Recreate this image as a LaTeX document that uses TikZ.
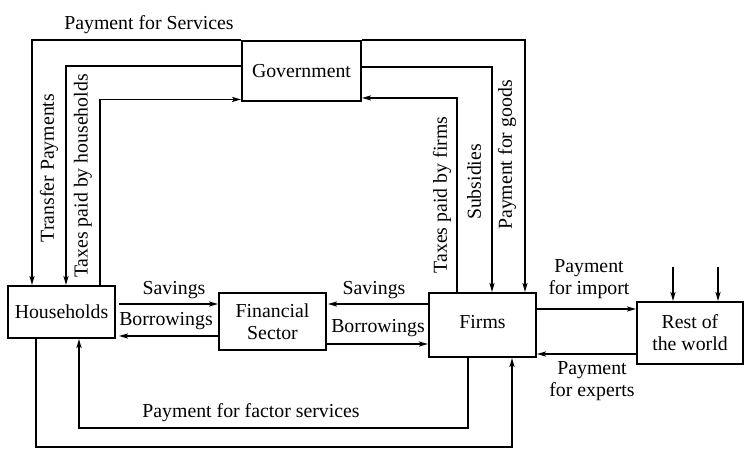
\documentclass[tikz,border=0pt]{standalone}
\usepackage{fontspec}
\setmainfont{Liberation Serif}
\usetikzlibrary{arrows.meta}
\newcommand{\dfont}{\fontsize{19.8}{22}\selectfont}
\begin{document}
\begin{tikzpicture}[x=1pt,y=-1pt,
  box/.style={draw,line width=1.9pt,inner sep=0pt,align=center,font=\dfont},
  lbl/.style={inner sep=0pt,align=center,font=\dfont},
  arr/.style={line width=1.7pt,-{Stealth[length=9pt,width=5pt,inset=2pt]}},
  ln/.style={line width=1.7pt}]
\useasboundingbox (0,0) rectangle (754,450);
% boxes
\node[box,minimum width=119pt,minimum height=60pt] (gov) at (301.5,71) {Government};
\node[box,minimum width=107pt,minimum height=52pt] (hh) at (61.5,312) {Households};
\node[box,minimum width=107pt,minimum height=57pt] (fs) at (272.5,321.5) {Financial\\Sector};
\node[box,minimum width=107pt,minimum height=64pt,text depth=6pt] (fi) at (482.5,325) {Firms};
\node[box,minimum width=106pt,minimum height=62pt] (rw) at (690,333) {Rest of\\the world};
% helper x-positions
\coordinate (c1) at (32,0);
\coordinate (c2) at (66,0);
\coordinate (c3) at (100,0);
\coordinate (c4) at (457,0);
\coordinate (c6) at (492,0);
\coordinate (c5) at (525,0);
% government links
\draw[arr] (gov.north west) -| (c1 |- hh.north);
\draw[arr] (gov.north east) -| (c5 |- fi.north);
\draw[arr] ([yshift=5pt]gov.west) -| (c2 |- hh.north);
\draw[arr] ([yshift=4pt]gov.east) -| (c6 |- fi.north);
\draw[arr] (c3 |- hh.north) |- ([yshift=2.5pt]gov.south west);
\draw[arr] (c4 |- fi.north) |- ([yshift=4pt]gov.south east);
% households - financial sector
\coordinate (s1) at ([yshift=8pt]hh.east);
\draw[arr,shorten <=3pt] (s1) -- (s1 -| fs.west);
\coordinate (b1) at ([yshift=-14.5pt]fs.west);
\draw[arr,shorten >=3pt] (b1) -- (b1 -| hh.east);
% firms - financial sector
\coordinate (s2) at ([yshift=21pt]fi.west);
\draw[arr,shorten >=1pt] (s2) -- (s2 -| fs.east);
\coordinate (b2) at ([yshift=-22.5pt]fs.east);
\draw[arr] (b2) -- (b2 -| fi.west);
% firms - rest of the world
\coordinate (m1) at ([yshift=16pt]fi.east);
\draw[arr] (m1) -- (m1 -| rw.west);
\coordinate (x1) at ([yshift=-21pt]rw.west);
\draw[arr] (x1) -- (x1 -| fi.east);
% arrows into rest of the world
\coordinate (r1) at ([xshift=-17pt]rw.north);
\coordinate (r1s) at ([yshift=34pt]r1);
\draw[arr] (r1s) -- (r1);
\coordinate (r2) at ([xshift=28pt]rw.north);
\coordinate (r2s) at ([yshift=34pt]r2);
\draw[arr] (r2s) -- (r2);
% factor services
\coordinate (f1) at ([xshift=-14.5pt]fi.south);
\coordinate (f2) at ([xshift=17.5pt]hh.south);
\coordinate (fy) at (0,428);
\draw[arr] (f1) -- (f1 |- fy) -- (f2 |- fy) -- (f2);
% bottom loop
\coordinate (g1) at ([xshift=-25.5pt]hh.south);
\coordinate (g2) at ([xshift=29.5pt]fi.south);
\coordinate (gy) at (0,447);
\draw[arr] (g1) -- (g1 |- gy) -- (g2 |- gy) -- (g2);
% labels
\node[lbl] (l1) at (149,25) {Payment for Services};
\node[lbl,rotate=90] (l2) at (49,168) {Transfer Payments};
\node[lbl,rotate=90] (l3) at (83,176) {Taxes paid by households};
\node[lbl,rotate=90] (l4) at (442,195) {Taxes paid by firms};
\node[lbl,rotate=90] (l5) at (474,182) {Subsidies};
\node[lbl,rotate=90] (l6) at (507,155) {Payment for goods};
\node[lbl] (l7) at (174,290) {Savings};
\node[lbl] (l8) at (166,321) {Borrowings};
\node[lbl] (l9) at (374,290) {Savings};
\node[lbl] (l10) at (378,328) {Borrowings};
\node[lbl] (l11) at (589,279) {Payment\\for import};
\node[lbl] (l12) at (592,381) {Payment\\for experts};
\node[lbl] (l13) at (251,413) {Payment for factor services};
\end{tikzpicture}
\end{document}
